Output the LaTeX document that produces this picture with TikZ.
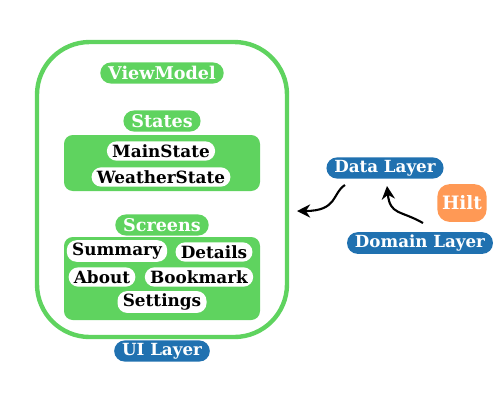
\documentclass[tikz,border=0pt]{standalone}
\usepackage{fontspec}
\setmainfont{DejaVu Serif}
\usetikzlibrary{arrows.meta}
\definecolor{uigreen}{HTML}{5FD35F}
\definecolor{layerblue}{HTML}{2071B0}
\definecolor{hiltorange}{HTML}{FF9955}
\tikzset{
  pill/.style={rounded corners=6pt, minimum height=12pt, inner sep=1.5pt, inner xsep=4.5pt, font=\fontsize{9.5}{11}\selectfont\bfseries},
  greenpill/.style={pill, fill=uigreen, text=white, font=\fontsize{10}{11}\selectfont\bfseries},
  whitepill/.style={pill, fill=white, text=black, inner xsep=3pt, minimum height=11pt, rounded corners=5.5pt, font=\fontsize{9.6}{11}\selectfont\bfseries},
  bluepill/.style={pill, fill=layerblue, text=white},
  groupbox/.style={fill=uigreen, rounded corners=5pt},
  arr/.style={-{Stealth[length=7.5pt,width=7.5pt]}, line width=1.2pt, black}
}
\begin{document}
\begin{tikzpicture}[x=0.02cm, y=-0.02cm]
\useasboundingbox (0,0) rectangle (500,400);
% outer UI box
\draw[uigreen, line width=2.5pt, rounded corners=30pt] (37,42) rectangle (287,337);
% ViewModel
\node[greenpill, minimum width=70pt] (vm) at (162,73) {ViewModel};
% States group
\node[greenpill] (states) at (162,121) {States};
\fill[groupbox] (64,135) rectangle (260,191);
\node[whitepill] (mainstate) at (161,151) {MainState};
\node[whitepill] (weatherstate) at (161,177) {WeatherState};
% Screens group
\node[greenpill] (screens) at (162,225) {Screens};
\fill[groupbox] (64,237) rectangle (260,320);
\node[whitepill] (summary) at (117,251) {Summary};
\node[whitepill] (details) at (214,252) {Details};
\node[whitepill] (about) at (102,277) {About};
\node[whitepill] (bookmark) at (199,277) {Bookmark};
\node[whitepill] (settings) at (162,302) {Settings};
% layers
\node[bluepill] (ui) at (162,351) {UI Layer};
\node[bluepill] (data) at (385,168) {Data Layer};
\node[bluepill] (domain) at (420,243) {Domain Layer};
\node[fill=hiltorange, text=white, rounded corners=7pt, minimum width=28pt, minimum height=21.5pt, inner sep=2pt, font=\fontsize{10.5}{11}\selectfont\bfseries] (hilt) at (462,203) {Hilt};
% arrows
\coordinate (a1s) at (345,185);
\coordinate (a1e) at (297,211);
\coordinate (a2s) at (423,223);
\coordinate (a2e) at (387,186);
\draw[arr] (a1s) .. controls (332,193) and (338,211) .. (a1e);
\draw[arr] (a2s) .. controls (400,210) and (390,215) .. (a2e);
\end{tikzpicture}
\end{document}
